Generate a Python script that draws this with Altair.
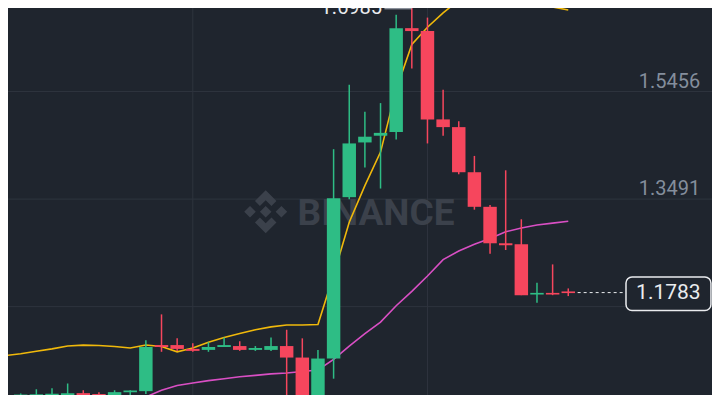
import altair as alt
import pandas as pd

# ---------------- data ----------------
candle_idx = list(range(36))
opens = [0.9800, 0.9850, 0.9870, 0.9880, 0.9946, 0.9929, 0.9880, 0.9964, 0.9982, 1.0824,
         1.0824, 1.0754, 1.0736, 1.0789, 1.0806, 1.0736, 1.0736, 1.0806, 1.0596, 0.9800,
         1.0578, 1.3526, 1.4526, 1.4649, 1.4719, 1.6614, 1.6561, 1.4947, 1.4806, 1.3982,
         1.3350, 1.2684, 1.2666, 1.1754, 1.1771, 1.1795]
closes = [0.9920, 0.9925, 0.9935, 0.9946, 0.9870, 0.9860, 0.9964, 0.9990, 1.0789, 1.0789,
          1.0754, 1.0718, 1.0789, 1.0824, 1.0736, 1.0771, 1.0806, 1.0596, 0.9800, 1.0578,
          1.3508, 1.4508, 1.4631, 1.4701, 1.6614, 1.6561, 1.4947, 1.4806, 1.3982, 1.3350,
          1.2684, 1.2648, 1.1736, 1.1771, 1.1754, 1.1783]
highs = [0.9940, 1.0017, 1.0034, 1.0122, 0.9999, 0.9964, 0.9999, 0.9999, 1.0911, 1.1385,
         1.0947, 1.0859, 1.0876, 1.0964, 1.0894, 1.0806, 1.0964, 1.1104, 1.0947, 1.0736,
         1.4403, 1.5578, 1.5087, 1.5245, 1.6859, 1.6985, 1.6807, 1.5491, 1.4912, 1.4280,
         1.3385, 1.4017, 1.3122, 1.1964, 1.2298, 1.1859]
lows = [0.9700, 0.9760, 0.9780, 0.9800, 0.9800, 0.9790, 0.9820, 0.9911, 0.9929, 1.0701,
        1.0718, 1.0701, 1.0701, 1.0789, 1.0718, 1.0718, 1.0718, 0.9870, 0.9750, 0.9750,
        1.0210, 1.3490, 1.4070, 1.3684, 1.4578, 1.5877, 1.4508, 1.4649, 1.3947, 1.3298,
        1.2491, 1.2561, 1.1736, 1.1596, 1.1736, 1.1719]

yellow_idx = list(range(-1, 36))
yellow_ma = [1.0631, 1.0666, 1.0710, 1.0754, 1.0806, 1.0824, 1.0815, 1.0797, 1.0771, 1.0824,
             1.0797, 1.0701, 1.0771, 1.0876, 1.0964, 1.1034, 1.1104, 1.1157, 1.1192, 1.1192,
             1.1201, 1.2104, 1.3069, 1.3736, 1.4350, 1.5491, 1.6315, 1.6631, 1.6894, 1.7122,
             1.7298, 1.7368, 1.7333, 1.7228, 1.7087, 1.7000, 1.6947]

pink_idx = list(range(7, 36))
pink_ma = [0.9753, 0.9876, 0.9999, 1.0087, 1.0131, 1.0175, 1.0210, 1.0245, 1.0271, 1.0297,
           1.0315, 1.0341, 1.0368, 1.0561, 1.0806, 1.1034, 1.1245, 1.1543, 1.1806, 1.2087,
           1.2385, 1.2543, 1.2666, 1.2771, 1.2894, 1.2964, 1.3017, 1.3052, 1.3087]

grid_prices = [1.1526, 1.3491, 1.5456]
grid_idx = [11, 26]
scale_labels = ["1.5456", "1.3491"]
scale_label_prices = [1.5456, 1.3491]
high_label = "1.6985"
high_price = 1.6985
high_idx = 25
last_price = 1.1783
last_label = "1.1783"
watermark = "BINANCE"

# ---------------- styling ----------------
BG = "#1f252e"
GRID = "#2e343e"
UP = "#2ebd85"
DOWN = "#f6465d"
YELLOW = "#f0b90b"
PINK = "#d94fc4"
W, H = 704, 387
XDOM = [-0.8125, 44.1875]
YDOM = [0.99119, 1.69824]

def X(field="i"):
    return alt.X(f"{field}:Q", scale=alt.Scale(domain=XDOM, nice=False, zero=False), axis=None)

def Y(field="p"):
    return alt.Y(f"{field}:Q", scale=alt.Scale(domain=YDOM, nice=False, zero=False), axis=None)

candles = pd.DataFrame({"i": candle_idx, "o": opens, "c": closes, "h": highs, "l": lows})
candles["up"] = candles["c"] >= candles["o"]
top = candles[["o", "c"]].max(axis=1)
bot = candles[["o", "c"]].min(axis=1)
mid = (top + bot) / 2
small = (top - bot) < 0.003
candles["bt"] = top.where(~small, mid + 0.0015)
candles["bb"] = bot.where(~small, mid - 0.0015)
candles["x0"] = candles["i"] - 0.43
candles["x1"] = candles["i"] + 0.43

color_enc = alt.Color("up:N", scale=alt.Scale(domain=[True, False], range=[UP, DOWN]), legend=None)

# grid
hgrid = alt.Chart(pd.DataFrame({"p": grid_prices})).mark_rule(color=GRID, strokeWidth=1).encode(
    y=Y("p"), x=alt.value(0), x2=alt.value(W))
vgrid = alt.Chart(pd.DataFrame({"i": grid_idx})).mark_rule(color=GRID, strokeWidth=1).encode(
    x=X("i"), y=alt.value(0), y2=alt.value(H))

# watermark
wm_text = alt.Chart(pd.DataFrame({"i": [17.7], "p": [1.3219], "t": [watermark]})).mark_text(
    align="left", baseline="middle", font="Roboto", fontWeight="bold", fontSize=37,
    color="#3b414b").encode(x=X("i"), y=Y("p"), text="t:N")
logo_path = ("M0,-0.27 L0.27,0 L0,0.27 L-0.27,0 Z "
             "M-1,0 L-0.73,-0.27 L-0.46,0 L-0.73,0.27 Z "
             "M1,0 L0.73,-0.27 L0.46,0 L0.73,0.27 Z "
             "M0,-1 L0.5,-0.5 L0.27,-0.27 L0,-0.54 L-0.27,-0.27 L-0.5,-0.5 Z "
             "M0,1 L0.5,0.5 L0.27,0.27 L0,0.54 L-0.27,0.27 L-0.5,0.5 Z")
wm_logo = alt.Chart(pd.DataFrame({"i": [15.66], "p": [1.3260]})).mark_point(
    shape=logo_path, filled=True, size=1850, color="#3b414b", opacity=1).encode(x=X("i"), y=Y("p"))

# candles
wicks = alt.Chart(candles).mark_rule(strokeWidth=1.5, clip=True).encode(
    x=X("i"), y=Y("h"), y2="l:Q", color=color_enc)
bodies = alt.Chart(candles).mark_rect(clip=True).encode(
    x=X("x0"), x2="x1:Q", y=Y("bt"), y2="bb:Q", color=color_enc)

# moving averages
yline = alt.Chart(pd.DataFrame({"i": yellow_idx, "p": yellow_ma})).mark_line(
    color=YELLOW, strokeWidth=1.6, clip=True).encode(x=X("i"), y=Y("p"))
pline = alt.Chart(pd.DataFrame({"i": pink_idx, "p": pink_ma})).mark_line(
    color=PINK, strokeWidth=1.6, clip=True).encode(x=X("i"), y=Y("p"))

# price scale labels
lbl = alt.Chart(pd.DataFrame({"i": [43.44] * 2, "p": scale_label_prices, "t": scale_labels})).mark_text(
    align="right", baseline="alphabetic", dy=-4, font="Roboto", fontSize=20, color="#848e9c",
    clip=True).encode(x=X("i"), y=Y("p"), text="t:N")

# high marker
high_line = alt.Chart(pd.DataFrame({"i": [23.25], "i2": [high_idx], "p": [1.6968]})).mark_rule(
    color="#b7bdc6", strokeWidth=1, clip=True).encode(x=X("i"), x2="i2:Q", y=Y("p"))
high_text = alt.Chart(pd.DataFrame({"i": [23.1], "p": [high_price], "t": [high_label]})).mark_text(
    align="right", baseline="middle", font="Roboto", fontSize=20, color="#eaecef",
    clip=True).encode(x=X("i"), y=Y("p"), text="t:N")

# last price
dash = alt.Chart(pd.DataFrame({"i": [35.6], "i2": [38.6], "p": [last_price]})).mark_rule(
    color="#eaecef", strokeWidth=1, strokeDash=[3, 3], clip=True).encode(x=X("i"), x2="i2:Q", y=Y("p"))
box = alt.Chart(pd.DataFrame({"i": [38.69], "i2": [44.12], "p": [1.2069], "p2": [1.1455]})).mark_rect(
    fill=BG, stroke="#eaecef", strokeWidth=1.5, cornerRadius=6, clip=True).encode(
    x=X("i"), x2="i2:Q", y=Y("p"), y2="p2:Q")
box_text = alt.Chart(pd.DataFrame({"i": [41.4], "p": [last_price], "t": [last_label]})).mark_text(
    align="center", baseline="middle", font="Roboto", fontSize=21, color="#eaecef",
    clip=True).encode(x=X("i"), y=Y("p"), text="t:N")

chart = alt.layer(
    hgrid, vgrid, wm_logo, wm_text, pline, yline, wicks, bodies, lbl,
    high_line, high_text, dash, box, box_text
).properties(
    width=W, height=H, background=BG, padding=0,
    autosize=alt.AutoSizeParams(type="none"),
).configure_view(stroke=None)

chart.save("out.html", embed_options={"renderer": "svg", "actions": False})
